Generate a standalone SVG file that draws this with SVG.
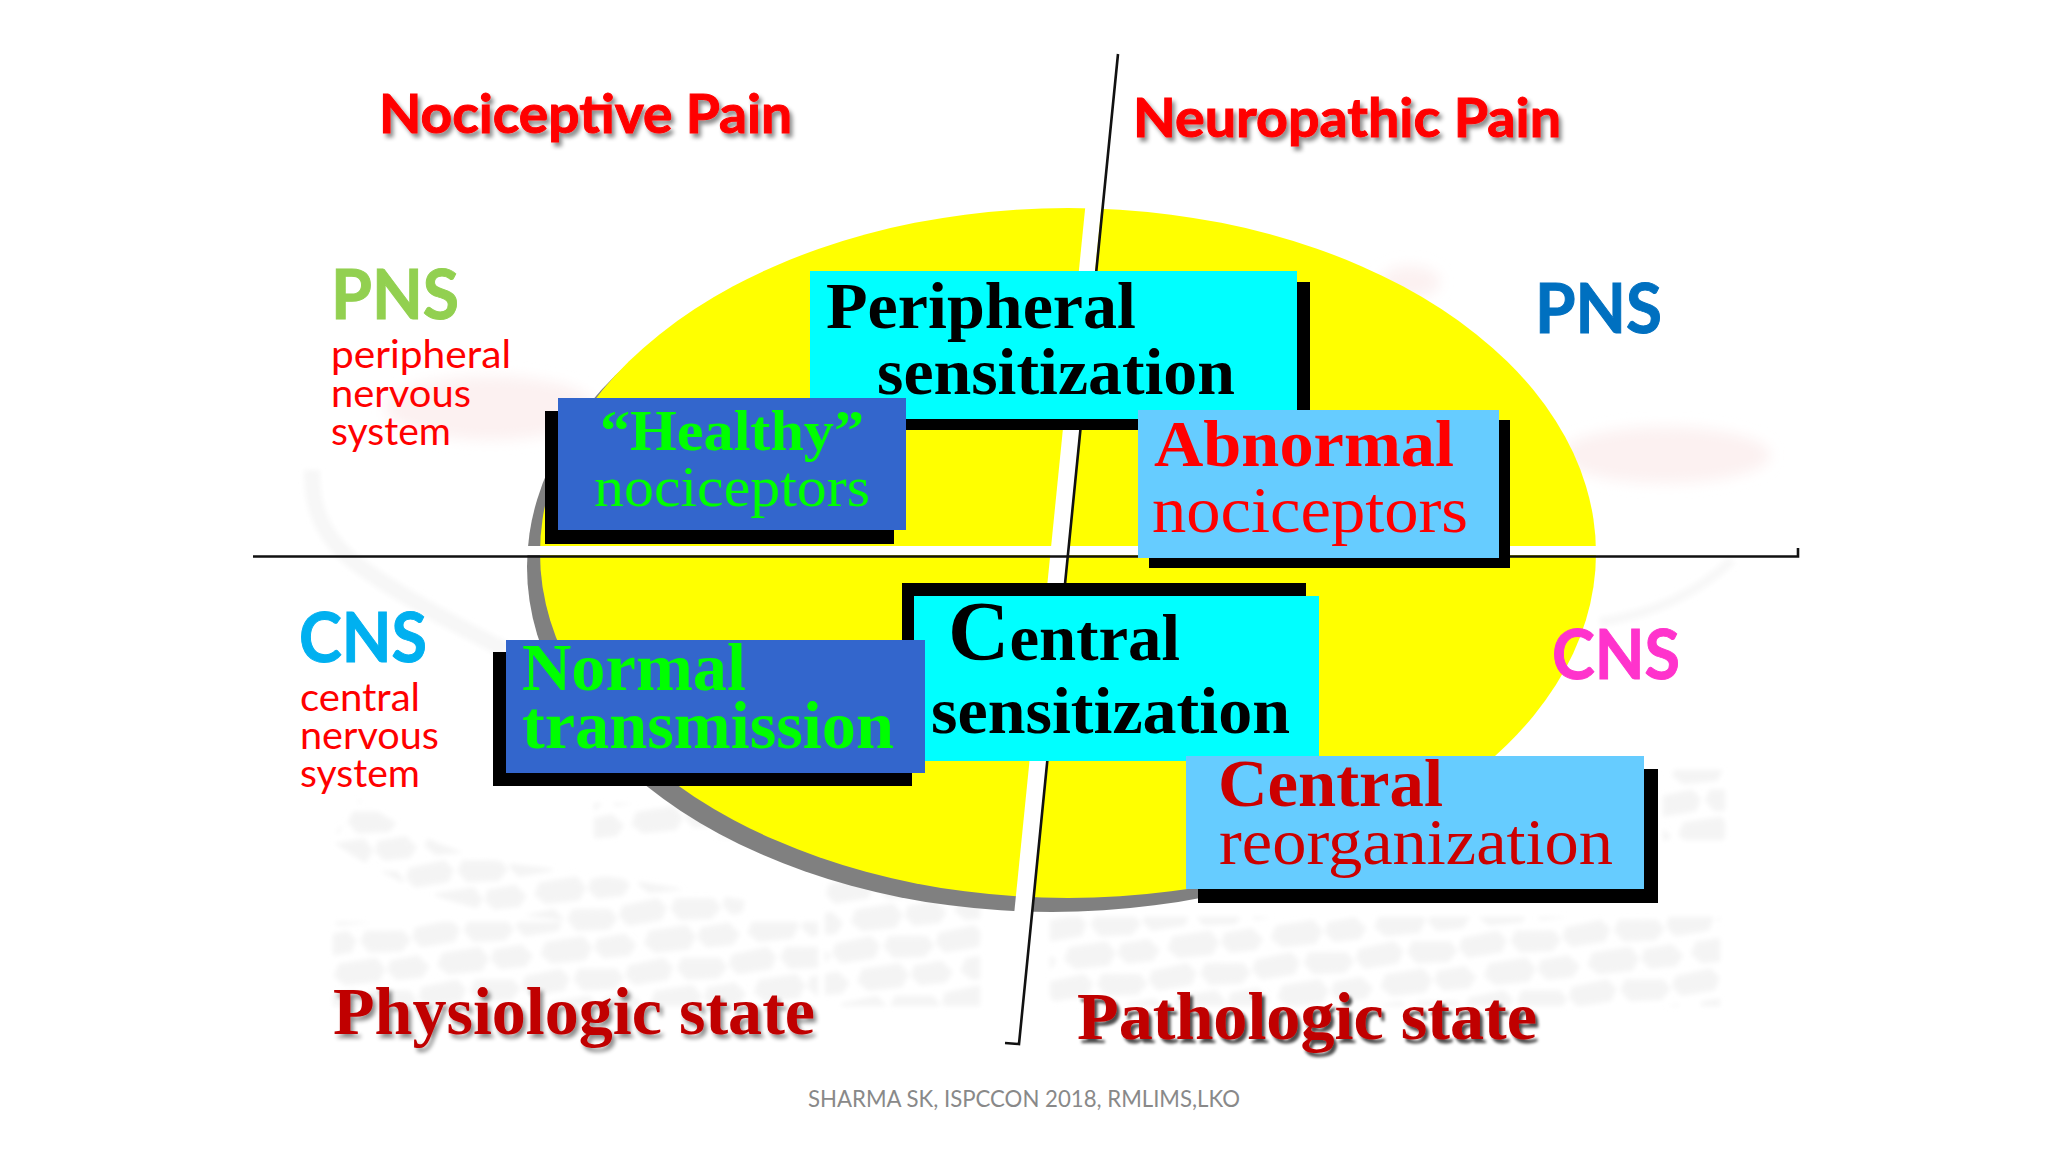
<svg xmlns="http://www.w3.org/2000/svg" width="2048" height="1152" viewBox="0 0 2048 1152">
<style>
.s{font-family:"Liberation Serif","Times New Roman",serif}
.l{font-family:Lato,"Liberation Sans",sans-serif}
.b{font-weight:bold}
.lh{font-weight:bold;stroke-width:1}
.sh{fill:#000}
.cy{fill:#00ffff}
.bl{fill:#3366cc}
.lb{fill:#66ccff}
.axis{fill:none;stroke:#111;stroke-width:2.6}
.gap{fill:#fff}
.wm{stroke:url(#cells);fill:none}
</style>
<defs>
<filter id="ds" x="-5%" y="-20%" width="110%" height="150%"><feDropShadow dx="3" dy="4" stdDeviation="2" flood-color="#000" flood-opacity=".45"/></filter>
<filter id="dk" x="-5%" y="-20%" width="110%" height="150%"><feDropShadow dx="3" dy="4" stdDeviation="1.500" flood-color="#000" flood-opacity=".7"/></filter>
<filter id="bl" x="-20%" y="-20%" width="140%" height="140%"><feGaussianBlur stdDeviation="7"/></filter>
<filter id="bs" x="-5%" y="-5%" width="110%" height="110%"><feGaussianBlur stdDeviation="2.500"/></filter>
<pattern id="cells" width="104" height="60" patternUnits="userSpaceOnUse" patternTransform="rotate(-6)">
<g fill="#f4f4f4"><polygon points="4,6 40,2 48,12 42,24 8,26 0,16"/><polygon points="58,4 96,8 102,18 92,28 60,26 52,14"/><polygon points="28,34 66,32 74,44 66,56 32,56 22,46"/><polygon points="80,36 108,34 112,46 106,56 84,56 76,46"/><polygon points="-24,34 4,34 14,46 6,56 -20,56 -28,46"/></g>
</pattern>
</defs>
<rect width="2048" height="1152" fill="#fff"/>
<g id="watermark" filter="url(#bs)">
<rect x="333" y="922" width="485" height="84" fill="url(#cells)"/>
<rect x="825" y="880" width="155" height="126" fill="url(#cells)"/>
<rect x="1050" y="917" width="670" height="89" fill="url(#cells)"/>
<rect x="1663" y="770" width="62" height="70" fill="url(#cells)"/>
<rect x="594" y="803" width="144" height="35" fill="url(#cells)"/>
<path class="wm" d="M345 820Q430 880 520 890T740 925" stroke-width="50"/>
<path d="M312 470Q310 530 358 565T505 650" fill="none" stroke="#f7f7f7" stroke-width="16"/>
<path d="M1732 560Q1680 610 1600 622" fill="none" stroke="#f8f8f8" stroke-width="10"/>
</g>
<g id="watermark-red" filter="url(#bl)" fill="#fcf1f1">
<ellipse cx="490" cy="408" rx="105" ry="32"/>
<ellipse cx="1665" cy="455" rx="105" ry="28"/>
<ellipse cx="1410" cy="282" rx="30" ry="16"/>
</g>
<g id="disc">
<ellipse cx="1052" cy="567" rx="525" ry="345" fill="#808080"/>
<ellipse cx="1068" cy="553" rx="528" ry="345" fill="#ffff00"/>
<rect x="500" y="546" width="1120" height="9" class="gap"/>
<polygon points="1087,190 1103,190 1032,915 1014,915" class="gap"/>
</g>
<g id="connectors">
<path class="axis" d="M253 556.500H1798V548"/>
<path class="axis" d="M1118 54L1019 1044L1005 1043"/>
</g>
<g id="peripheral-sensitization">
<rect class="sh" x="823" y="282" width="487" height="148"/>
<rect class="cy" x="810" y="271" width="487" height="148"/>
<text class="s b" x="826" y="328" font-size="66" textLength="310" lengthAdjust="spacingAndGlyphs">Peripheral</text>
<text class="s b" x="877" y="394" font-size="66" textLength="358" lengthAdjust="spacingAndGlyphs">sensitization</text>
</g>
<g id="healthy-nociceptors">
<rect class="sh" x="545" y="411" width="349" height="133"/>
<rect class="bl" x="558" y="398" width="348" height="132"/>
<text class="s b" x="600" y="450" font-size="57" fill="#00ff00" textLength="264" lengthAdjust="spacingAndGlyphs">“Healthy”</text>
<text class="s" x="594" y="506" font-size="57" fill="#00ff00" textLength="276" lengthAdjust="spacingAndGlyphs">nociceptors</text>
</g>
<g id="abnormal-nociceptors">
<rect class="sh" x="1149" y="420" width="361" height="148"/>
<rect class="lb" x="1138" y="410" width="361" height="148"/>
<text class="s b" x="1154" y="466" font-size="66" fill="#ff0000" textLength="300" lengthAdjust="spacingAndGlyphs">Abnormal</text>
<text class="s" x="1152" y="532" font-size="66" fill="#ff0000" textLength="316" lengthAdjust="spacingAndGlyphs">nociceptors</text>
</g>
<g id="central-sensitization">
<rect class="sh" x="902" y="583" width="404" height="165"/>
<rect class="cy" x="914" y="596" width="405" height="165"/>
<text class="s b" x="948" y="660" font-size="66" textLength="232" lengthAdjust="spacingAndGlyphs"><tspan font-size="84">C</tspan>entral</text>
<text class="s b" x="931" y="733" font-size="66" textLength="359" lengthAdjust="spacingAndGlyphs">sensitization</text>
</g>
<g id="normal-transmission">
<rect class="sh" x="493" y="652" width="419" height="134"/>
<rect class="bl" x="506" y="640" width="419" height="133"/>
<text class="s b" x="522" y="690" font-size="68" fill="#00ff00" textLength="224" lengthAdjust="spacingAndGlyphs">Normal</text>
<text class="s b" x="522" y="748" font-size="68" fill="#00ff00" textLength="372" lengthAdjust="spacingAndGlyphs">transmission</text>
</g>
<g id="central-reorganization">
<rect class="sh" x="1198" y="769" width="460" height="134"/>
<rect class="lb" x="1186" y="756" width="458" height="133"/>
<text class="s b" x="1218" y="806" font-size="68" fill="#cc0000" textLength="225" lengthAdjust="spacingAndGlyphs">Central</text>
<text class="s" x="1219" y="864" font-size="66" fill="#cc0000" textLength="394" lengthAdjust="spacingAndGlyphs">reorganization</text>
</g>
<g id="labels">
<g filter="url(#ds)">
<text class="l lh" x="379" y="133" font-size="53" fill="#ff0000" stroke="#ff0000" textLength="413" lengthAdjust="spacingAndGlyphs">Nociceptive Pain</text>
<text class="l lh" x="1133" y="137" font-size="53" fill="#ff0000" stroke="#ff0000" textLength="428" lengthAdjust="spacingAndGlyphs">Neuropathic Pain</text>
<text class="s b" x="333" y="1034" font-size="67" fill="#c00000" textLength="482" lengthAdjust="spacingAndGlyphs">Physiologic state</text>
</g>
<text class="s b" filter="url(#dk)" x="1077" y="1039" font-size="67" fill="#c00000" textLength="460" lengthAdjust="spacingAndGlyphs">Pathologic state</text>
<text class="l lh" x="331" y="319" font-size="68" fill="#92d050" stroke="#92d050" textLength="128" lengthAdjust="spacingAndGlyphs">PNS</text>
<text class="l" x="331" y="368" font-size="38" fill="#ff0000" textLength="180" lengthAdjust="spacingAndGlyphs">peripheral</text>
<text class="l" x="331" y="407" font-size="38" fill="#ff0000" textLength="140" lengthAdjust="spacingAndGlyphs">nervous</text>
<text class="l" x="331" y="445" font-size="38" fill="#ff0000" textLength="120" lengthAdjust="spacingAndGlyphs">system</text>
<text class="l lh" x="1535" y="333" font-size="68" fill="#0070c0" stroke="#0070c0" textLength="127" lengthAdjust="spacingAndGlyphs">PNS</text>
<text class="l lh" x="299" y="662" font-size="68" fill="#00b0f0" stroke="#00b0f0" textLength="128" lengthAdjust="spacingAndGlyphs">CNS</text>
<text class="l" x="300" y="711" font-size="38" fill="#ff0000" textLength="120" lengthAdjust="spacingAndGlyphs">central</text>
<text class="l" x="300" y="749" font-size="38" fill="#ff0000" textLength="139" lengthAdjust="spacingAndGlyphs">nervous</text>
<text class="l" x="300" y="787" font-size="38" fill="#ff0000" textLength="120" lengthAdjust="spacingAndGlyphs">system</text>
<text class="l lh" x="1552" y="679" font-size="68" fill="#ff33cc" stroke="#ff33cc" textLength="128" lengthAdjust="spacingAndGlyphs">CNS</text>
<text class="l" x="808" y="1107" font-size="24" fill="#898989" textLength="432" lengthAdjust="spacingAndGlyphs">SHARMA SK, ISPCCON 2018, RMLIMS,LKO</text>
</g>
</svg>
